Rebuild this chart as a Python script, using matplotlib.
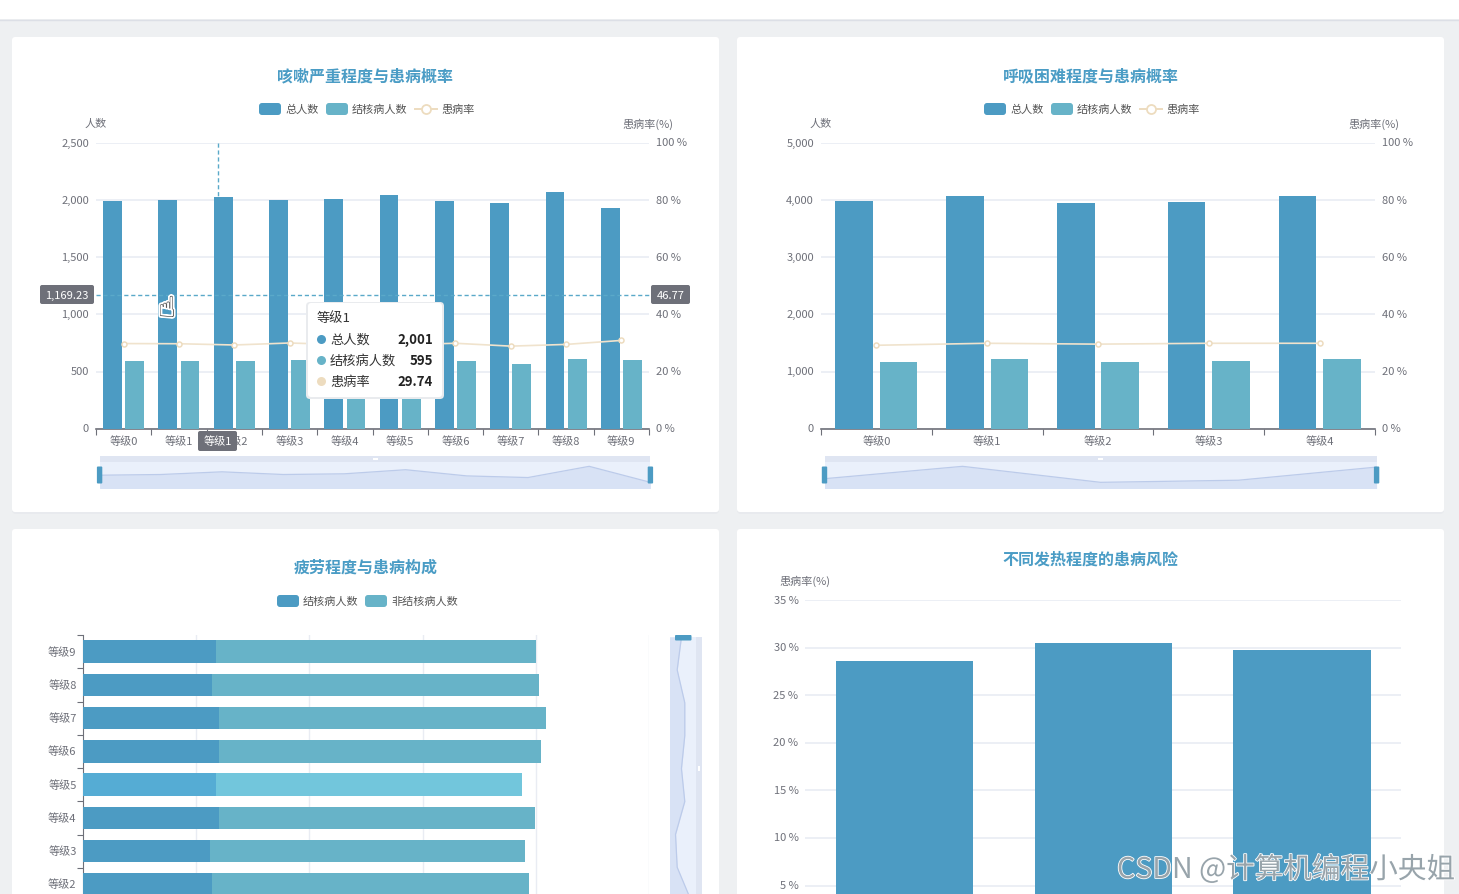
import matplotlib
matplotlib.use('Agg')
import matplotlib.pyplot as plt
import matplotlib.patheffects as pe
from matplotlib.patches import FancyBboxPatch, Rectangle
from matplotlib.ticker import FuncFormatter
from matplotlib.transforms import ScaledTranslation

plt.rcParams['font.family'] = ['Noto Sans CJK SC', 'DejaVu Sans']

W, H = 1459, 895

# 咳嗽
cough_levels = ['等级0', '等级1', '等级2', '等级3', '等级4', '等级5', '等级6', '等级7', '等级8', '等级9']
cough_total = [1995, 2001, 2024, 2001, 2007, 2042, 1989, 1975, 2071, 1934]
cough_tb = [595, 595, 592, 601, 590, 600, 592, 569, 610, 598]
cough_rate = [29.8, 29.74, 29.3, 30.0, 29.4, 29.4, 29.9, 28.9, 29.5, 30.9]

# 呼吸困难
breath_levels = ['等级0', '等级1', '等级2', '等级3', '等级4']
breath_total = [3979, 4078, 3950, 3967, 4072]
breath_tb = [1161, 1219, 1167, 1184, 1213]
breath_rate = [29.2, 29.9, 29.6, 29.9, 29.9]

# 疲劳 (only 等级2-9 are on screen)
fatigue_levels = ['等级9', '等级8', '等级7', '等级6', '等级5', '等级4', '等级3', '等级2']
fatigue_pos = [9, 8, 7, 6, 5, 4, 3, 2]
fatigue_tb = [586, 568, 600, 600, 586, 600, 561, 568]
fatigue_non = [1413, 1445, 1444, 1423, 1355, 1395, 1392, 1404]
slider_pos = [9, 8, 7, 6, 5, 4, 3, 2, 1]
slider_tb = [586, 568, 600, 600, 586, 600, 561, 568, 626]

# 发热
fever_levels = ['等级0', '等级1', '等级2']
fever_rate = [28.6, 30.45, 29.8]

BLUE = '#4c9bc3'
TEAL = '#67b3c8'
CREAM = '#eddcbf'
TITLE = '#4a9cc5'
GREY = '#6e7079'
GRID = '#e9ecf3'


def px_axes(x0, y0, x1, y1, zorder=1):
    ax = fig.add_axes([x0 / W, 1 - y1 / H, (x1 - x0) / W, (y1 - y0) / H], zorder=zorder)
    ax.patch.set_alpha(0)
    return ax


def round_box(ax, x0, y0, x1, y1, color, r=3, zorder=2, **kw):
    ax.add_patch(FancyBboxPatch((x0 + r, y0 + r), x1 - x0 - 2 * r, y1 - y0 - 2 * r,
                                boxstyle=f'round,pad={r},rounding_size={r}',
                                fc=color, ec=kw.pop('ec', 'none'), zorder=zorder, **kw))


def lift_ylabels(ax):
    # y tick labels sit about 1.5px higher in the original
    shift = ScaledTranslation(0, 1.5 / 100, fig.dpi_scale_trans)
    for label in ax.get_yticklabels():
        label.set_transform(label.get_transform() + shift)


def legend_item(x, y, label, color):
    round_box(top, x, y - 6, x + 22, y + 6, color)
    top.text(x + 26, y, label, fontsize=8, color='#555555', va='center')


def legend_line(x, y, label):
    top.plot([x, x + 22], [y, y], color=CREAM, lw=1.4, zorder=3)
    top.plot([x + 11], [y], 'o', ms=6.5, mfc='white', mec=CREAM, mew=1.3, zorder=4)
    top.text(x + 26, y, label, fontsize=8, color='#555555', va='center')


def slider_h(x0, x1, values):
    # bottom slider, the line is scaled from the bar values
    top.add_patch(Rectangle((x0, 457), x1 - x0, 6, fc='#dfe5f2', ec='none', zorder=1))
    top.add_patch(Rectangle(((x0 + x1) / 2 - 2.5, 459), 5, 2, fc='white', ec='none', zorder=2))
    ax = px_axes(x0, 463, x1, 489, zorder=2)
    ax.set_facecolor('#eaf0fb')
    ax.patch.set_alpha(1)
    ax.fill_between(range(len(values)), values, 0, color='#d8e2f5', lw=0)
    ax.plot(range(len(values)), values, color='#bccbea', lw=0.9)
    ax.set_xlim(0, len(values) - 1)
    lo, hi = min(values), max(values)
    span = (hi - lo) / 48 * 78
    ax.set_xticks([])
    ax.set_yticks([])
    ax.set_ylim(lo - 17 / 78 * span, lo - 17 / 78 * span + span)
    for s in ax.spines.values():
        s.set_visible(False)
    round_box(top, x0 - 2.7, 467.5, x0 + 2.7, 484.5, BLUE, r=1, zorder=6)
    round_box(top, x1 - 2.7, 467.5, x1 + 2.7, 484.5, BLUE, r=1, zorder=6)


def combo_chart(x0, x1, levels, total, tb, rate, ymax, ystep):
    ax = px_axes(x0, 144, x1, 429.7)
    xs = list(range(len(levels)))
    ax.bar([i - 0.2 for i in xs], total, 0.34, color=BLUE, zorder=3)
    ax.bar([i + 0.2 for i in xs], tb, 0.34, color=TEAL, zorder=3)
    ax.set_xlim(-0.5, len(levels) - 0.5)
    ax.set_ylim(0, ymax)
    ax.set_yticks(range(0, ymax + 1, ystep))
    ax.yaxis.set_major_formatter(FuncFormatter(lambda v, p: f'{int(v):,}'))
    ax.grid(axis='y', color=GRID, lw=1.2, zorder=0)
    ax.set_xticks(xs)
    ax.set_xticklabels(levels)
    ax.set_xticks([i - 0.5 for i in range(len(levels) + 1)], minor=True)
    ax.tick_params(axis='x', which='major', length=0, labelsize=8, labelcolor=GREY, pad=5)
    ax.tick_params(axis='x', which='minor', length=4, color=GREY, width=0.8)
    ax.tick_params(axis='y', length=0, labelsize=8, labelcolor=GREY, pad=5)
    lift_ylabels(ax)
    for name in ['top', 'left', 'right']:
        ax.spines[name].set_visible(False)
    ax.spines['bottom'].set_color(GREY)
    ax.spines['bottom'].set_linewidth(1.2)

    ax2 = ax.twinx()
    ax2.patch.set_alpha(0)
    ax2.plot(xs, rate, color='#f0e3cd', lw=1.2, marker='o', ms=3.6, mfc='white', mec=CREAM, mew=1.1, zorder=5)
    ax2.set_ylim(0, 100)
    ax2.set_yticks(range(0, 101, 20))
    ax2.yaxis.set_major_formatter(FuncFormatter(lambda v, p: f'{int(v)} %'))
    ax2.tick_params(axis='y', length=0, labelsize=8, labelcolor=GREY, pad=5)
    lift_ylabels(ax2)
    for s in ax2.spines.values():
        s.set_visible(False)

    top.text(x0, 124, '人数', fontsize=8, color=GREY, ha='center', va='center')
    top.text(x1 - 1, 124, '患病率(%)', fontsize=8, color=GREY, ha='center', va='center')


fig = plt.figure(figsize=(W / 100, H / 100), dpi=100)
fig.patch.set_facecolor('#eef0f2')

# page and cards behind everything
back = px_axes(0, 0, W, H, zorder=0)
back.set_xlim(0, W)
back.set_ylim(H, 0)
back.axis('off')
back.add_patch(Rectangle((0, 0), W, 20, fc='white', ec='none'))
back.plot([0, W], [20.5, 20.5], color='#dcdfe6', lw=1)
for cx0, cy0, cx1, cy1 in [(12, 38, 719, 513), (737, 38, 1444, 513), (12, 530, 719, 905), (737, 530, 1444, 905)]:
    round_box(back, cx0, cy0, cx1, cy1 + 2, '#e8eaee', r=4, zorder=1)
    round_box(back, cx0, cy0, cx1, cy1, 'white', r=3, zorder=2)

# everything placed by pixel
top = px_axes(0, 0, W, H, zorder=5)
top.set_xlim(0, W)
top.set_ylim(H, 0)
top.axis('off')

for tx, ty, s in [(365.5, 76, '咳嗽严重程度与患病概率'), (1090.5, 76, '呼吸困难程度与患病概率'),
                  (365.5, 568, '疲劳程度与患病构成'), (1090.5, 560, '不同发热程度的患病风险')]:
    top.text(tx, ty, s, fontsize=11.5, fontweight='bold', color=TITLE, ha='center', va='center')

for off in [0, 725]:
    legend_item(259 + off, 110, '总人数', BLUE)
    legend_item(326 + off, 110, '结核病人数', TEAL)
    legend_line(415 + off, 110, '患病率')
legend_item(277, 602, '结核病人数', BLUE)
legend_item(365, 602, '非结核病人数', TEAL)

combo_chart(96, 649, cough_levels, cough_total, cough_tb, cough_rate, 2500, 500)
combo_chart(821, 1375, breath_levels, breath_total, breath_tb, breath_rate, 5000, 1000)
slider_h(99.6, 650.4, cough_total)
slider_h(824.5, 1376.6, breath_total)

# hover state of the cough chart
top.plot([96, 649], [296, 296], color='#5aa9c9', lw=1, ls=(0, (3, 2)), zorder=3)
top.plot([217.5, 217.5], [144, 198], color='#5aa9c9', lw=1, ls=(0, (3, 2)), zorder=3)
round_box(top, 40, 286, 94, 305, GREY, r=2, zorder=6)
top.text(67, 295.5, '1,169.23', fontsize=8, color='white', ha='center', va='center', zorder=7)
round_box(top, 651, 286, 690, 305, GREY, r=2, zorder=6)
top.text(670.5, 295.5, '46.77', fontsize=8, color='white', ha='center', va='center', zorder=7)
round_box(top, 198, 432, 237, 452, GREY, r=2, zorder=6)
top.text(217.5, 441.5, '等级1', fontsize=8, color='white', ha='center', va='center', zorder=7)

round_box(top, 306, 303, 444, 400, '#e9ebee', r=4, zorder=7)
round_box(top, 308, 304, 442, 398, 'white', r=3, zorder=8)
top.text(317, 318, cough_levels[1], fontsize=9.5, color='#333333', va='center', zorder=9)
tip_rows = [('总人数', f'{cough_total[1]:,}', BLUE, 340), ('结核病人数', f'{cough_tb[1]}', TEAL, 361),
            ('患病率', f'{cough_rate[1]}', CREAM, 382)]
for name, val, col, ty in tip_rows:
    top.plot([321], [ty], 'o', ms=6.5, color=col, mew=0, zorder=9)
    top.text(330, ty, name, fontsize=9.5, color='#333333', va='center', zorder=9)
    top.text(433, ty, val, fontsize=9.5, fontweight='bold', color='#222222', ha='right', va='center', zorder=9)
top.text(167, 310, '\u261d', fontsize=21, color='#222222', family='DejaVu Sans', ha='center', va='center', zorder=9,
         path_effects=[pe.withStroke(linewidth=2.5, foreground='white')])

# fatigue, horizontal stacked
ax3 = px_axes(83, 636, 649, 895)
ax3.barh(fatigue_pos, fatigue_tb, 0.67, color=BLUE, zorder=3)
bars = ax3.barh(fatigue_pos, fatigue_non, 0.67, left=fatigue_tb, color=TEAL, zorder=3)
ax3.patches[4].set_facecolor('#55acd4')
bars[4].set_facecolor('#72c6dc')
ax3.set_yticks(fatigue_pos)
ax3.set_yticklabels(fatigue_levels)
ax3.set_yticks([p - 0.5 for p in fatigue_pos] + [9.5], minor=True)
ax3.set_xticks([500, 1000, 1500, 2000, 2500])
ax3.set_xticklabels([])
# limits after the ticks, set_yticks widens them
ax3.set_xlim(0, 2500)
ax3.set_ylim(9.5 - 259 / 33.25, 9.5)
ax3.grid(axis='x', color=GRID, lw=1, zorder=0)
ax3.tick_params(axis='x', length=0)
ax3.tick_params(axis='y', which='major', length=0, labelsize=8, labelcolor=GREY, pad=4.6)
ax3.tick_params(axis='y', which='minor', length=4, color=GREY, width=0.8)
lift_ylabels(ax3)
for name in ['top', 'right', 'bottom']:
    ax3.spines[name].set_visible(False)
ax3.spines['left'].set_color(GREY)

# vertical slider of the fatigue chart
top.add_patch(Rectangle((670.4, 638), 31.2, 257, fc='#dfe5f2', ec='none', zorder=1))
ax3s = px_axes(670.4, 638, 696, 895, zorder=6)
ax3s.set_facecolor('#eaf0fb')
ax3s.patch.set_alpha(1)
ax3s.fill_betweenx(slider_pos, 0, slider_tb, color='#d8e2f5', lw=0)
ax3s.plot(slider_tb, slider_pos, color='#bccbea', lw=0.9)
ax3s.set_xlim(539.4, 539.4 + 55 / 0.51)
ax3s.set_ylim(9 - 257 / 32.9, 9)
ax3s.set_xticks([])
ax3s.set_yticks([])
for s in ax3s.spines.values():
    s.set_visible(False)
top.add_patch(Rectangle((697.5, 767), 2.5, 5, fc='white', ec='none', zorder=2))
top3 = px_axes(0, 0, W, H, zorder=7)
top3.set_xlim(0, W)
top3.set_ylim(H, 0)
top3.axis('off')
round_box(top3, 675, 636, 691.5, 641.5, BLUE, r=1, zorder=6)

# fever risk
ax4 = px_axes(805.4, 601, 1401.3, 895)
ax4.bar(range(3), fever_rate, 0.69, color=BLUE, zorder=3)
ax4.set_yticks(range(5, 36, 5))
ax4.set_xlim(-0.5, 2.5)
ax4.set_ylim(35 - 294 / 47.6 * 5, 35)
ax4.yaxis.set_major_formatter(FuncFormatter(lambda v, p: f'{int(v)} %'))
ax4.grid(axis='y', color=GRID, lw=1.2, zorder=0)
ax4.set_xticks([])
ax4.tick_params(axis='y', length=0, labelsize=8, labelcolor=GREY, pad=5)
lift_ylabels(ax4)
for s in ax4.spines.values():
    s.set_visible(False)
top.text(805, 581, '患病率(%)', fontsize=8, color=GREY, ha='center', va='center')

# watermark
top3.text(1117, 871, 'CSDN @计算机编程小央姐', fontsize=20.6, color='#98a4ab', va='center', zorder=9,
          path_effects=[pe.withStroke(linewidth=1.2, foreground='white')])

fig.savefig('out.png', dpi=100, facecolor=fig.get_facecolor())
